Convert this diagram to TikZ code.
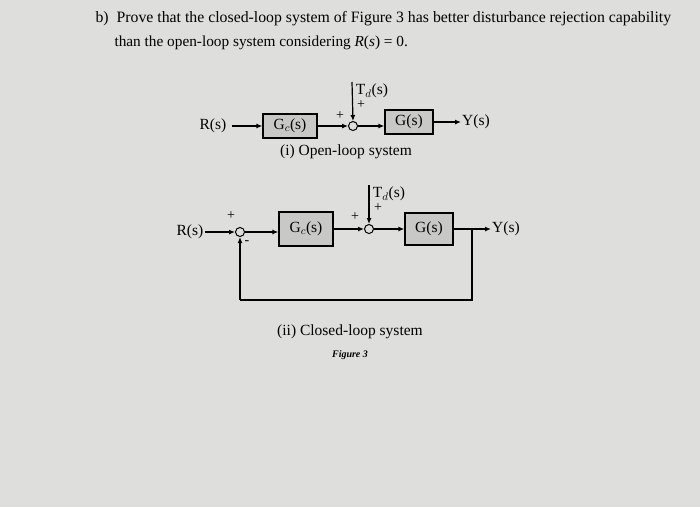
\documentclass[tikz,border=0pt]{standalone}
\usepackage{fontspec}
\setmainfont{Liberation Serif}
\usetikzlibrary{arrows.meta}
\definecolor{paper}{RGB}{222,222,220}
\definecolor{boxfill}{RGB}{200,200,198}
\begin{document}
\begin{tikzpicture}[x=1pt,y=-1pt,
  blk/.style={draw,fill=boxfill,line width=1.2pt,inner sep=0pt},
  sumc/.style={draw,circle,minimum size=9pt,inner sep=0pt,line width=1pt},
  sig/.style={line width=1.2pt,-{Latex[length=6pt,width=5pt]}},
  lbl/.style={font=\fontsize{15.5}{18}\selectfont,inner sep=1pt},
  pm/.style={font=\fontsize{14}{14}\selectfont,inner sep=0pt}]
\fill[paper] (0,0) rectangle (700,507);
\useasboundingbox (0,0) rectangle (700,507);
\node[anchor=west,font=\fontsize{15.8}{18}\selectfont] (t1) at (92,19) {b)\ \ Prove that the closed-loop system of Figure 3 has better disturbance rejection capability};
\node[anchor=west,font=\fontsize{15.3}{18}\selectfont] (t2) at (111,43) {than the open-loop system considering \textit{R}(\textit{s}) = 0.};
% open loop
\node[lbl] (r1) at (213,126) {R(s)};
\node[blk,minimum width=54pt,minimum height=24pt] (gc1) at (290,126) {};
\node[lbl] at (gc1) {G$_c$(s)};
\node[sumc] (s1) at (353,126) {};
\node[blk,minimum width=48pt,minimum height=24pt] (g1) at (409,122) {};
\node[lbl] at (g1) {G(s)};
\node[lbl,anchor=west] (y1) at (461,122) {Y(s)};
\node[lbl] (td1) at (372,91) {T$_d$(s)};
\coordinate (tdt1) at (352,82);
\node[lbl] (cap1) at (346,152) {(i) Open-loop system};
\node[pm] at (340,116) {+};
\node[pm] at (361,105) {+};
\draw[sig] (r1.east)++(4,0) -- (gc1.west);
\draw[sig] (gc1.east) -- (s1.west);
\draw[sig] (tdt1) -- (s1.north);
\draw[sig] (s1.east) -- (g1.west|-s1.east);
\draw[line width=1.2pt] (g1.east) -- ++(10,0) coordinate (o1);
\draw[sig] (o1) |- (y1.west);
% closed loop
\node[lbl] (r2) at (190,232) {R(s)};
\node[sumc] (s2) at (240,232) {};
\node[blk,minimum width=54pt,minimum height=34pt] (gc2) at (306,229) {};
\node[lbl] at (gc2) {G$_c$(s)};
\node[sumc] (s3) at (369,229) {};
\node[blk,minimum width=48pt,minimum height=32pt] (g2) at (429,229) {};
\node[lbl] at (g2) {G(s)};
\node[lbl,anchor=west] (y2) at (491,229) {Y(s)};
\node[lbl] (td2) at (389,194) {T$_d$(s)};
\coordinate (tdt2) at (369,185);
\coordinate (br) at (472,229);
\coordinate (bl) at (240,300);
\coordinate (bb) at (472,300);
\node[pm] at (231,216) {+};
\node[pm] at (247,243) {-};
\node[pm] at (355,217) {+};
\node[pm] at (378,208) {+};
\node[lbl] (cap2) at (350,332) {(ii) Closed-loop system};
\node[font=\fontsize{10}{12}\selectfont\itshape\bfseries] (fig) at (350,355) {Figure 3};
\draw[sig] (r2.east) -- (s2.west);
\draw[sig] (s2.east) -- (gc2.west|-s2.east);
\draw[sig] (gc2.east) -- (s3.west);
\draw[sig] (tdt2) -- (s3.north);
\draw[sig] (s3.east) -- (g2.west);
\draw[sig] (g2.east) -- (y2.west);
\draw[line width=1.2pt] (br) -- (bb) -- (bl);
\draw[sig] (bl) -- (s2.south);
\end{tikzpicture}
\end{document}
